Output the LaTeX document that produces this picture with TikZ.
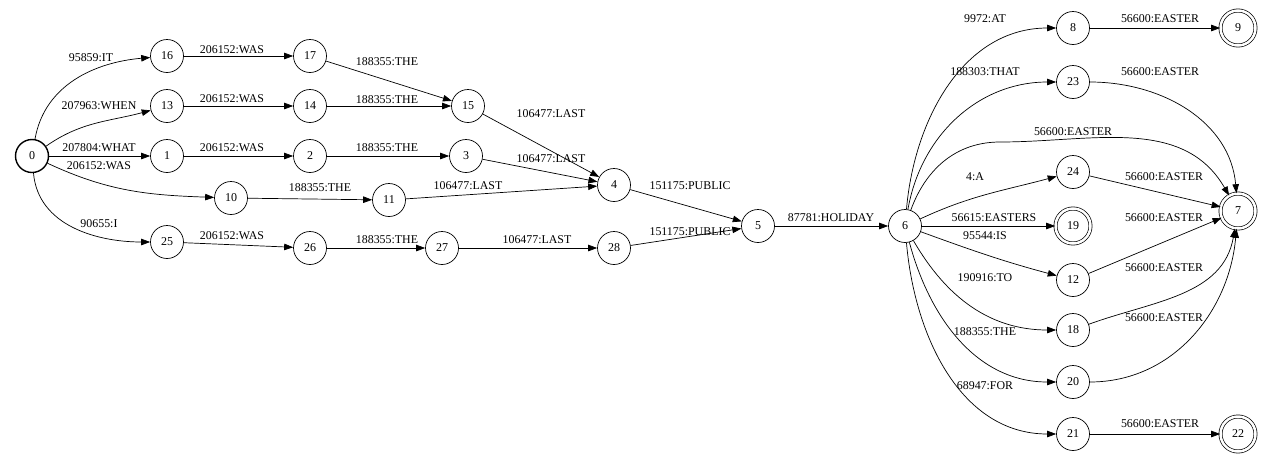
\documentclass[tikz,border=0pt]{standalone}
\usepackage{fontspec}
\setmainfont{Liberation Serif}
\usetikzlibrary{arrows.meta}
\begin{document}
\begin{tikzpicture}[x=1pt,y=1pt,
  st/.style={circle,draw,line width=0.7pt,minimum size=33pt,inner sep=0pt,font=\fontsize{12}{13}\selectfont},
  fin/.style={st,double,double distance=2.5pt,minimum size=35pt},
  init/.style={st,line width=1.4pt},
  lb/.style={font=\fontsize{11.9}{13}\selectfont,inner sep=0pt},
  e/.style={-{Triangle[length=9pt,width=6.5pt]},line width=0.7pt}]
\useasboundingbox (0,0) rectangle (1283,-464);
\node[init] (n0) at (32,-156) {0};
\node[st] (n16) at (167,-56) {16};
\node[st] (n17) at (310,-56) {17};
\node[st] (n13) at (167,-106) {13};
\node[st] (n14) at (310,-106) {14};
\node[st] (n15) at (468,-106) {15};
\node[st] (n1) at (167,-156) {1};
\node[st] (n2) at (310,-156) {2};
\node[st] (n3) at (466,-156) {3};
\node[st] (n10) at (231,-198) {10};
\node[st] (n11) at (389,-200) {11};
\node[st] (n4) at (614,-185) {4};
\node[st] (n25) at (167,-242) {25};
\node[st] (n26) at (310,-248) {26};
\node[st] (n27) at (442,-248) {27};
\node[st] (n28) at (614,-248) {28};
\node[st] (n5) at (758,-226) {5};
\node[st] (n6) at (905,-226) {6};
\node[st] (n8) at (1073,-28) {8};
\node[fin] (n9) at (1238,-28) {9};
\node[st] (n23) at (1073,-82) {23};
\node[fin] (n7) at (1238,-211) {7};
\node[st] (n24) at (1073,-172) {24};
\node[fin] (n19) at (1073,-226) {19};
\node[st] (n12) at (1073,-280) {12};
\node[st] (n18) at (1073,-330) {18};
\node[st] (n20) at (1073,-382) {20};
\node[st] (n21) at (1073,-434) {21};
\node[fin] (n22) at (1238,-434) {22};

\draw[e] (n0) to[out=80,in=185] (n16);
\draw[e] (n0) to[out=35,in=195] (n13);
\draw[e] (n0) -- (n1);
\draw[e] (n0) to[out=-25,in=178] (n10);
\draw[e] (n0) to[out=-85,in=180] (n25);
\draw[e] (n16) -- (n17);
\draw[e] (n13) -- (n14);
\draw[e] (n1) -- (n2);
\draw[e] (n25) -- (n26);
\draw[e] (n17) -- (n15);
\draw[e] (n14) -- (n15);
\draw[e] (n2) -- (n3);
\draw[e] (n10) -- (n11);
\draw[e] (n26) -- (n27);
\draw[e] (n27) -- (n28);
\draw[e] (n15) -- (n4);
\draw[e] (n3) -- (n4);
\draw[e] (n11) -- (n4);
\draw[e] (n4) -- (n5);
\draw[e] (n28) -- (n5);
\draw[e] (n5) -- (n6);
\draw[e] (n6) to[out=85,in=180] (n8);
\draw[e] (n6) to[out=80,in=180] (n23);
\draw[e] (n6) to[out=70,in=180] (1000,-142) to[out=0,in=120] (n7);
\draw[e] (n6) to[out=25,in=195] (n24);
\draw[e] (n6) -- (n19);
\draw[e] (n6) to[out=-20,in=165] (n12);
\draw[e] (n6) to[out=-60,in=180] (n18);
\draw[e] (n6) to[out=-75,in=180] (n20);
\draw[e] (n6) to[out=-85,in=180] (n21);
\draw[e] (n8) -- (n9);
\draw[e] (n23) to[out=0,in=95] (n7);
\draw[e] (n24) -- (n7);
\draw[e] (n12) -- (n7);
\draw[e] (n18) to[out=20,in=-100] (n7);
\draw[e] (n20) to[out=0,in=-95] (n7);
\draw[e] (n21) -- (n22);

\node[lb] (l1) at (91,-58) {95859:IT};
\node[lb] (l2) at (232,-50) {206152:WAS};
\node[lb] (l3) at (387,-62) {188355:THE};
\node[lb] (l4) at (99,-106) {207963:WHEN};
\node[lb] (l5) at (232,-99) {206152:WAS};
\node[lb] (l6) at (387,-100) {188355:THE};
\node[lb] (l7) at (551,-114) {106477:LAST};
\node[lb] (l8) at (99,-148) {207804:WHAT};
\node[lb] (l9) at (232,-148) {206152:WAS};
\node[lb] (l10) at (387,-148) {188355:THE};
\node[lb] (l11) at (551,-159) {106477:LAST};
\node[lb] (l12) at (99,-166) {206152:WAS};
\node[lb] (l13) at (320,-188) {188355:THE};
\node[lb] (l14) at (468,-186) {106477:LAST};
\node[lb] (l15) at (99,-224) {90655:I};
\node[lb] (l16) at (232,-236) {206152:WAS};
\node[lb] (l17) at (387,-240) {188355:THE};
\node[lb] (l18) at (537,-240) {106477:LAST};
\node[lb] (l19) at (690,-186) {151175:PUBLIC};
\node[lb] (l20) at (690,-232) {151175:PUBLIC};
\node[lb] (l21) at (831,-218) {87781:HOLIDAY};
\node[lb] (l22) at (985,-19) {9972:AT};
\node[lb] (l23) at (1160,-19) {56600:EASTER};
\node[lb] (l24) at (985,-72) {188303:THAT};
\node[lb] (l25) at (1160,-72) {56600:EASTER};
\node[lb] (l26) at (1073,-132) {56600:EASTER};
\node[lb] (l27) at (975,-177) {4:A};
\node[lb] (l28) at (1164,-177) {56600:EASTER};
\node[lb] (l29) at (994,-218) {56615:EASTERS};
\node[lb] (l30) at (985,-236) {95544:IS};
\node[lb] (l31) at (1164,-218) {56600:EASTER};
\node[lb] (l32) at (985,-278) {190916:TO};
\node[lb] (l33) at (1164,-268) {56600:EASTER};
\node[lb] (l34) at (985,-332) {188355:THE};
\node[lb] (l35) at (1164,-318) {56600:EASTER};
\node[lb] (l36) at (985,-386) {68947:FOR};
\node[lb] (l37) at (1160,-424) {56600:EASTER};
\end{tikzpicture}
\end{document}
